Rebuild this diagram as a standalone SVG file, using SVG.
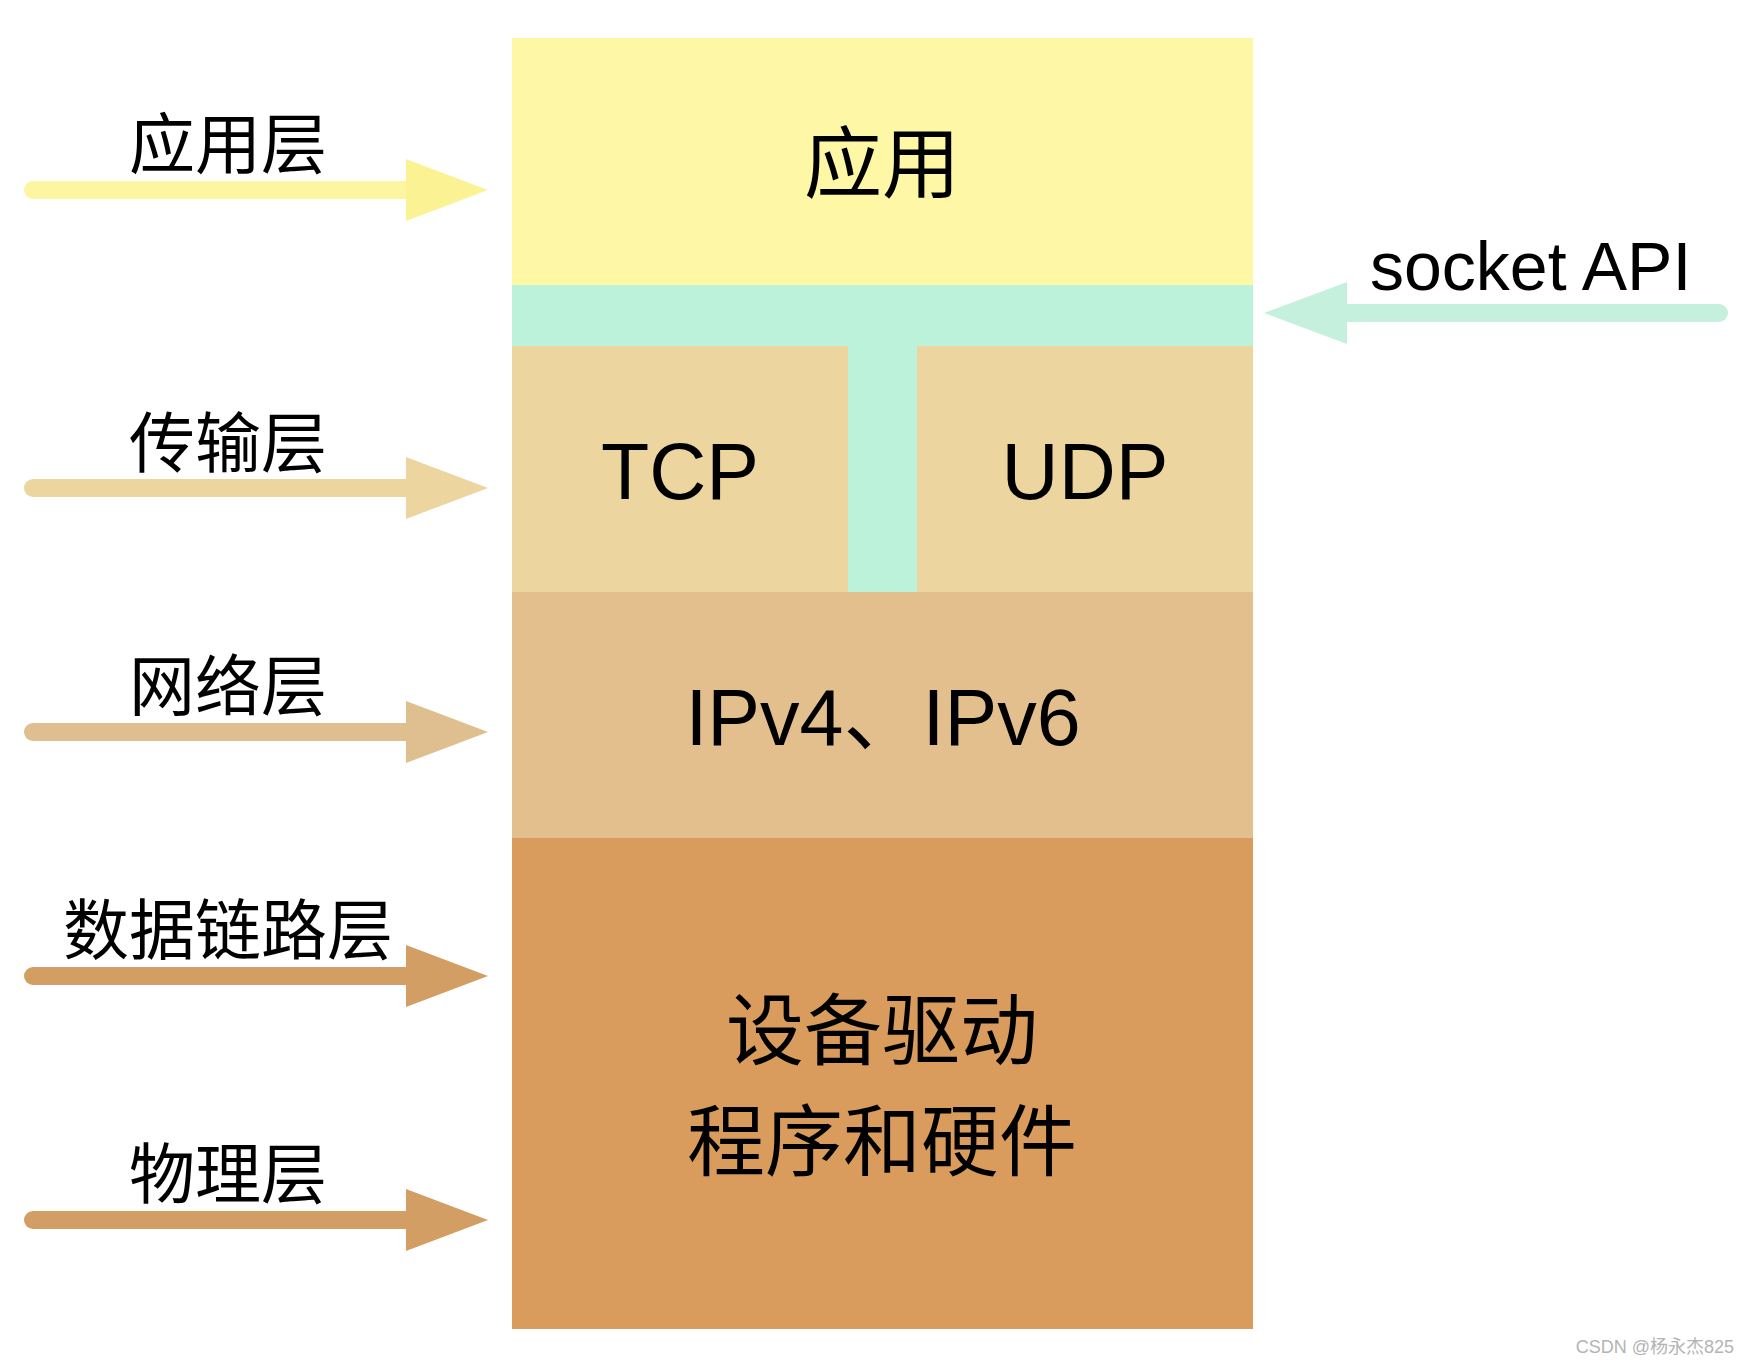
<svg xmlns="http://www.w3.org/2000/svg" width="1750" height="1364" viewBox="0 0 1750 1364">
<style>
.cjk{font-family:"Noto Sans CJK SC","Liberation Sans",sans-serif;fill:#000}
.lat{font-family:"Liberation Sans","Noto Sans CJK SC",sans-serif;fill:#000}
.lbl{font-size:66px;text-anchor:middle}
.mid{text-anchor:middle}
.shaft{stroke-width:18;stroke-linecap:round;fill:none}
</style>
<rect width="1750" height="1364" fill="#ffffff"/>
<g id="node-app">
<rect x="512" y="38" width="741" height="247" fill="#FEF7A6"/>
<text class="cjk mid" x="882" y="192" font-size="78">应用</text>
</g>
<g id="node-socket">
<rect x="512" y="285" width="741" height="61" fill="#BCF2D9"/>
<rect x="848" y="345" width="69" height="247" fill="#BCF2D9"/>
</g>
<g id="node-tcp">
<rect x="512" y="346" width="336" height="246" fill="#EDD59F"/>
<text class="lat mid" x="680" y="499" font-size="79">TCP</text>
</g>
<g id="node-udp">
<rect x="917" y="346" width="336" height="246" fill="#EDD59F"/>
<text class="lat mid" x="1085" y="499" font-size="79">UDP</text>
</g>
<g id="node-ip">
<rect x="512" y="592" width="741" height="246" fill="#E4BF8E"/>
<text class="lat mid" x="883" y="745" font-size="79">IPv4、IPv6</text>
</g>
<g id="node-driver">
<rect x="512" y="838" width="741" height="491" fill="#DA9C5C"/>
<text class="cjk mid" x="882" y="1059" font-size="78">设备驱动</text>
<text class="cjk mid" x="882" y="1170" font-size="78">程序和硬件</text>
</g>
<g id="connectors">
<line class="shaft" x1="33" y1="190" x2="410" y2="190" stroke="#FCF6A2"/>
<polygon points="406,159 488,190 406,221" fill="#FBF393"/>
<line class="shaft" x1="33" y1="488" x2="410" y2="488" stroke="#EDD59F"/>
<polygon points="406,457 488,488 406,519" fill="#EDD59F"/>
<line class="shaft" x1="33" y1="732" x2="410" y2="732" stroke="#DFBE8F"/>
<polygon points="406,701 488,732 406,763" fill="#DFBE8F"/>
<line class="shaft" x1="33" y1="976" x2="410" y2="976" stroke="#D29E63"/>
<polygon points="406,945 488,976 406,1007" fill="#D29E63"/>
<line class="shaft" x1="33" y1="1220" x2="410" y2="1220" stroke="#D29E63"/>
<polygon points="406,1189 488,1220 406,1251" fill="#D29E63"/>
<line class="shaft" x1="1342" y1="313" x2="1719" y2="313" stroke="#C5F0DD"/>
<polygon points="1347,282 1264,313 1347,344" fill="#C5F0DD"/>
</g>
<g id="labels">
<text class="cjk lbl" x="228" y="168">应用层</text>
<text class="cjk lbl" x="228" y="467">传输层</text>
<text class="cjk lbl" x="228" y="710">网络层</text>
<text class="cjk lbl" x="228" y="954">数据链路层</text>
<text class="cjk lbl" x="228" y="1198">物理层</text>
<text class="lat" x="1370" y="290" font-size="68">socket API</text>
</g>
<text x="1734" y="1353" font-size="18" text-anchor="end" fill="#b4b4b4" font-family="Liberation Sans,Noto Sans CJK SC,sans-serif">CSDN @杨永杰825</text>
</svg>
